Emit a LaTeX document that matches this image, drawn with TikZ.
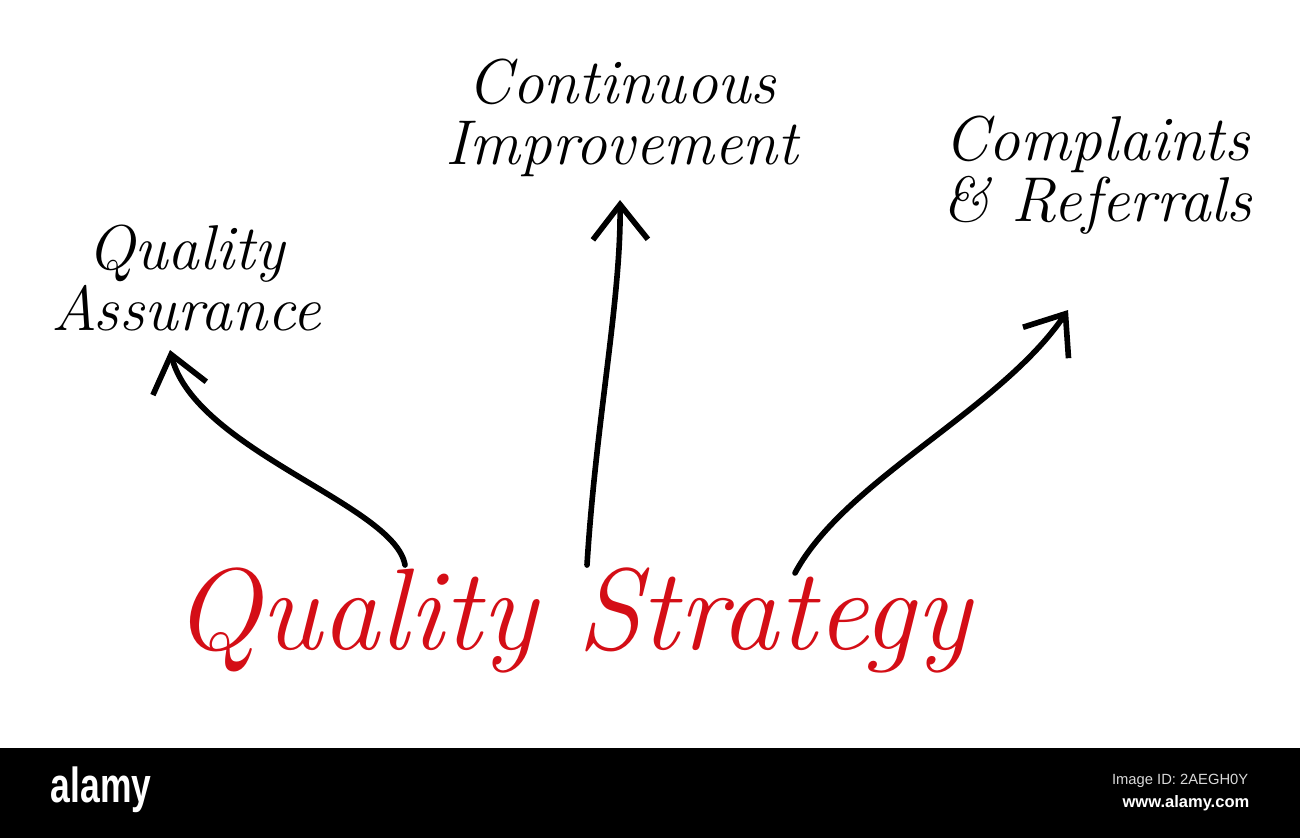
\documentclass[tikz,border=0pt]{standalone}
\usepackage{fontspec}
\newfontfamily\barfont{Liberation Sans}
\usetikzlibrary{arrows.meta}
\definecolor{qsred}{RGB}{212,14,22}
\begin{document}
\begin{tikzpicture}[x=0.01cm,y=-0.01cm]
              \useasboundingbox (0,0) rectangle (1300,838);
              \begin{scope}[every node/.style={align=center, font=\fontsize{18}{17.5}\selectfont\itshape}]
                \node (qa) at (186,278) {Quality\\Assurance};
                \node (ci) at (622,118) {Continuous\\Improvement};
                \node (cr) at (1097,175) {Complaints\\\& Referrals};
              \end{scope}
              \node[text=qsred, font=\fontsize{33}{33}\selectfont\itshape] (qs) at (572,620) {Quality Strategy};
              % tails and heads of the hand-drawn arrows
              \coordinate (qat) at (405,565);
              \coordinate (qah) at (170,350);
              \coordinate (cit) at (587,565);
              \coordinate (cih) at (620,200);
              \coordinate (crt) at (795,573);
              \coordinate (crh) at (1068,310);
              \begin{scope}[line width=1.6pt, line cap=round, -{Straight Barb[length=3.5mm,width=5.5mm]}]
                \draw (qat) .. controls (395,505) and (195,450) .. (qah);
                \draw (cit) .. controls (596,420) and (621,300) .. (cih);
                \draw (crt) .. controls (845,480) and (1000,410) .. (crh);
              \end{scope}
              \fill[black] (0,748) rectangle (1300,838);
              \node[text=white, xscale=0.72, font=\barfont\bfseries\fontsize{14}{14}\selectfont] (logo) at (101,790) {alamy};
              \node[text=white!85!black, anchor=east, inner sep=0pt, font=\barfont\fontsize{4.2}{4.2}\selectfont] (imgid) at (1249,781) {Image ID: 2AEGH0Y};
              \node[text=white, anchor=east, inner sep=0pt, font=\barfont\bfseries\fontsize{4.7}{4.7}\selectfont] (web) at (1250,803) {www.alamy.com};
            \end{tikzpicture}
\end{document}
